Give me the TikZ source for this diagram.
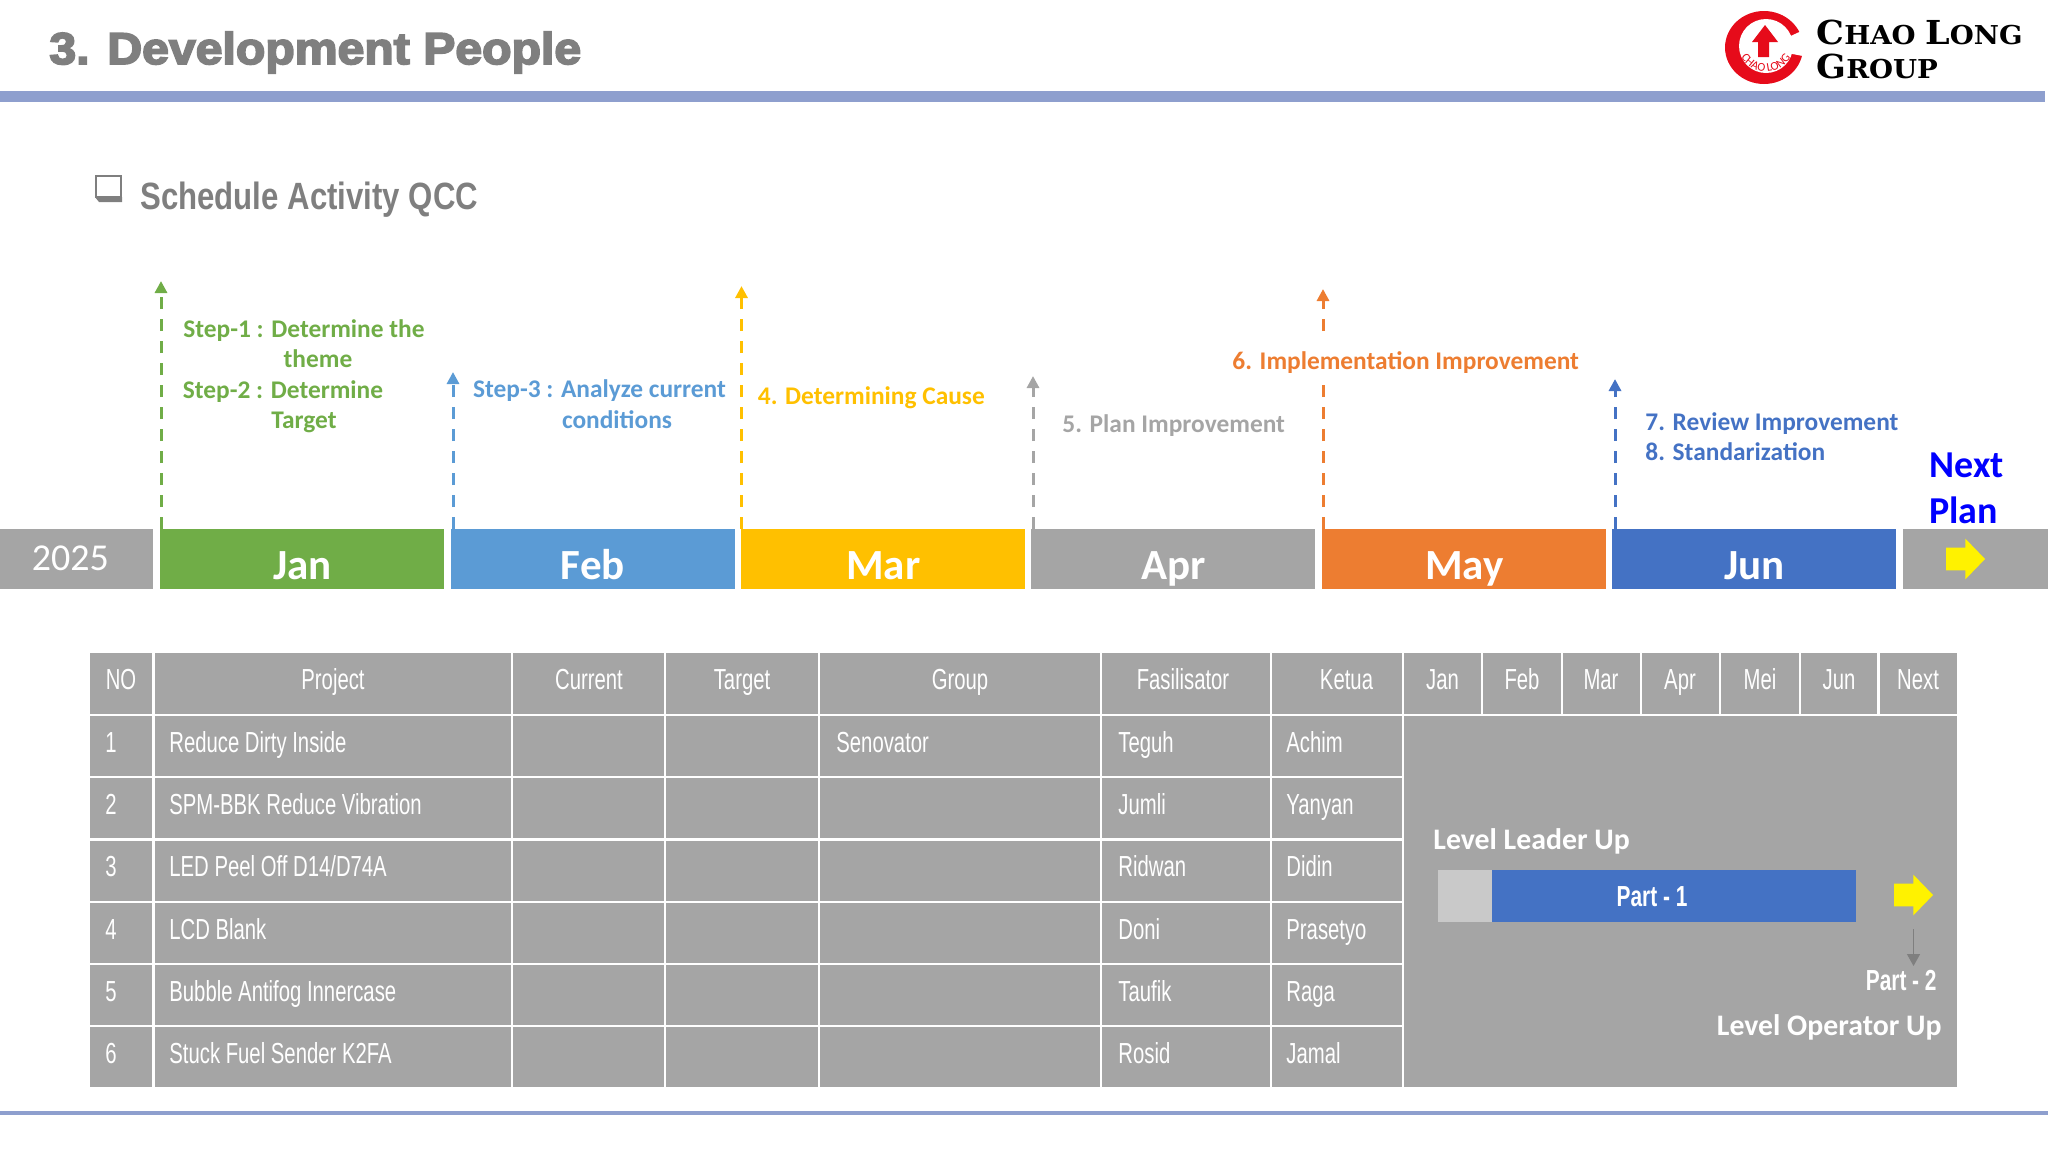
\documentclass[tikz,border=0pt]{standalone}
\usepackage{fontspec}
\usetikzlibrary{arrows.meta}
\usetikzlibrary{shapes}
\usetikzlibrary{decorations.text}
\setmainfont{Carlito}
\newfontfamily\titlefont[FakeStretch=1.08,BoldFeatures={FakeBold=4,FakeStretch=1.08}]{Liberation Sans}
\newfontfamily\subfont[BoldFeatures={FakeStretch=.82}]{Liberation Sans}
\newfontfamily\logofont[BoldFeatures={FakeStretch=1.06}]{DejaVu Serif}
\newfontfamily\cellfont[FakeStretch=.7,BoldFeatures={FakeStretch=.72}]{Liberation Sans}
\definecolor{linegray}{HTML}{A5A5A5}
\definecolor{textgray}{HTML}{7F7F7F}
\definecolor{rulecol}{HTML}{8E9FCE}
\definecolor{logored}{HTML}{E60B1A}
\definecolor{jancol}{HTML}{70AD47}
\definecolor{febcol}{HTML}{5B9BD5}
\definecolor{marcol}{HTML}{FFC000}
\definecolor{maycol}{HTML}{ED7D31}
\definecolor{juncol}{HTML}{4472C4}
\tikzset{
  month/.style={anchor=north west,inner sep=0pt,minimum width=142pt,minimum height=30pt,text=white,
    font=\bfseries\fontsize{21.5}{24}\selectfont,text height=19.7pt,text depth=0pt},
  stepline/.style={line width=1.5pt,dash pattern=on 6pt off 5pt,-{Triangle[length=6pt,width=6pt]}},
  steptxt/.style={inner sep=0pt,font=\bfseries\fontsize{12.7}{15}\selectfont,text height=11pt,text depth=3pt},
  cell/.style={anchor=west,inner sep=0pt,text=white,font=\cellfont\fontsize{14.5}{17}\selectfont,text height=12.5pt,text depth=2.5pt},
  head/.style={inner sep=0pt,text=white,font=\cellfont\fontsize{14.5}{17}\selectfont,text height=12.5pt,text depth=2.5pt},
  grid/.style={white,line width=1.3pt},
  yarrow/.style={single arrow,fill=yellow,inner sep=0pt,minimum height=19.5pt,text height=11pt,text depth=0pt,
    single arrow head extend=4.5pt,single arrow tip angle=92},
  lvl/.style={inner sep=0pt,text=white,font=\bfseries\fontsize{14.9}{17}\selectfont,text height=11pt,text depth=3pt},
  logotxt/.style={anchor=base west,inner sep=0pt,font=\logofont\bfseries\fontsize{16.5}{20}\selectfont,text height=12pt,text depth=0pt}
}
\begin{document}
\begin{tikzpicture}[x=.5pt,y=-.5pt]
\useasboundingbox (0,0) rectangle (2048,1152);
% header
\fill[rulecol] (0,91) rectangle (2045,102);
\fill[rulecol] (0,1111) rectangle (2048,1115);
\node[anchor=base west,inner sep=0pt,text=textgray,font=\titlefont\bfseries\fontsize{22.3}{26}\selectfont] (title) at (49,64){3. Development People};
\draw[textgray,line width=1pt,fill=white] (96,176) rectangle (121,197);
\fill[textgray] (95,197) -- (122,197) -- (122,202) -- (99,202) -- cycle;
\node[anchor=base west,inner sep=0pt,text=textgray,font=\subfont\bfseries\fontsize{19}{22}\selectfont] (sub) at (140,209){Schedule Activity QCC};
% logo
\fill[logored] (1764,47.5) ellipse[x radius=39,y radius=36.5];
\fill[white] (1766,46) circle[radius=27];
\fill[white] (1782,40) -- (1808,28) -- (1808,57) -- (1782,52) -- cycle;
\fill[logored] (1765,25) -- (1778,42) -- (1769,42) -- (1769,57) -- (1758,57) -- (1758,42) -- (1752,42) -- cycle;
\path[decorate,decoration={text along path,text align=center,text={|\fontsize{6}{7}\selectfont\color{logored}|CHAO LONG}}]
  (1737,50) .. controls (1748,79) and (1782,79) .. (1795,50);
\node[logotxt] (logoa) at (1816,44){C\fontsize{13}{20}\selectfont HAO \fontsize{16.5}{20}\selectfont L\fontsize{13}{20}\selectfont ONG};
\node[logotxt] (logob) at (1816,78){G\fontsize{13}{20}\selectfont ROUP};
% timeline
\node[month,minimum width=76.5pt,fill=linegray,font=\fontsize{19}{22}\selectfont,text height=11pt] (year) at (0,529){2025\hspace{6.5pt}\mbox{}};
\node[month,fill=jancol] (jan) at (160,529){Jan};
\node[month,fill=febcol] (feb) at (450.5,529){Feb};
\node[month,fill=marcol] (mar) at (741,529){Mar};
\node[month,fill=linegray] (apr) at (1031,529){Apr};
\node[month,fill=maycol] (may) at (1322,529){May};
\node[month,fill=juncol] (jun) at (1612,529){Jun};
\node[month,minimum width=72.5pt,fill=linegray] (nxt) at (1903,529){};
\node[yarrow] (nxtarrow) at (1960,559){};
\coordinate (jantop) at (161,281);
\coordinate (febtop) at (453,372);
\coordinate (martop) at (741.5,286);
\coordinate (aprtop) at (1033,376);
\coordinate (maytop) at (1323,289);
\coordinate (juntop) at (1615,379);
\draw[stepline,jancol] (jan.north west -| jantop) -- (jantop);
\draw[stepline,febcol] (feb.north west -| febtop) -- (febtop);
\draw[stepline,marcol] (mar.north west -| martop) -- (martop);
\draw[stepline,linegray] (apr.north west -| aprtop) -- (aprtop);
\draw[stepline,maycol] (may.north west -| maytop) -- (maytop);
\draw[stepline,juncol] (jun.north west -| juntop) -- (juntop);
\node[steptxt,text=jancol] (stepa) at (304,329){Step-1 : Determine the};
\node[steptxt,text=jancol] (stepb) at (318,359){theme};
\node[steptxt,text=jancol] (stepc) at (283,390){Step-2 : Determine};
\node[steptxt,text=jancol] (stepd) at (304,420){Target};
\node[steptxt,text=febcol] (stepe) at (599.5,389){Step-3 : Analyze current};
\node[steptxt,text=febcol] (stepf) at (617,420){conditions};
\node[steptxt,text=marcol,anchor=west] (stepg) at (757.5,396){4. Determining Cause};
\node[steptxt,text=linegray,anchor=west] (steph) at (1062,424){5. Plan Improvement};
\node[steptxt,text=maycol,anchor=west,fill=white,inner xsep=2pt,inner ysep=3pt] (stepi) at (1228,361){6. Implementation Improvement};
\node[steptxt,text=juncol,anchor=west] (stepj) at (1645,422){7. Review Improvement};
\node[steptxt,text=juncol,anchor=west] (stepk) at (1645,452){8. Standarization};
\node[steptxt,text=blue,anchor=west,font=\bfseries\fontsize{19}{22}\selectfont] (nexta) at (1929,469){Next};
\node[steptxt,text=blue,anchor=west,font=\bfseries\fontsize{19}{22}\selectfont] (nextb) at (1929,515){Plan};
% table
\fill[linegray] (90,653) rectangle (1957,1087);
\draw[grid] (90,715) -- (1957,715);
\draw[grid] (90,777) -- (1403,777);
\draw[grid] (90,839.5) -- (1403,839.5);
\draw[grid] (90,902) -- (1403,902);
\draw[grid] (90,964) -- (1403,964);
\draw[grid] (90,1026) -- (1403,1026);
\draw[grid] (153.5,653) -- (153.5,1087);
\draw[grid] (512,653) -- (512,1087);
\draw[grid] (665,653) -- (665,1087);
\draw[grid] (819,653) -- (819,1087);
\draw[grid] (1101,653) -- (1101,1087);
\draw[grid] (1271,653) -- (1271,1087);
\draw[grid] (1403,653) -- (1403,1087);
\draw[grid] (1482,653) -- (1482,715);
\draw[grid] (1562,653) -- (1562,715);
\draw[grid] (1641,653) -- (1641,715);
\draw[grid] (1720,653) -- (1720,715);
\draw[grid] (1800,653) -- (1800,715);
\draw[grid] (1878.5,653) -- (1878.5,715);
\node[head] (hno) at (121,679){NO};
\node[head] (hproject) at (333,679){Project};
\node[head] (hcurrent) at (589,679){Current};
\node[head] (htarget) at (742,679){Target};
\node[head] (hgroup) at (960,679){Group};
\node[head] (hfasil) at (1183,679){Fasilisator};
\node[head] (hketua) at (1346.5,679){Ketua};
\node[head] (hjan) at (1442.5,679){Jan};
\node[head] (hfeb) at (1522,679){Feb};
\node[head] (hmar) at (1601,679){Mar};
\node[head] (hapr) at (1680,679){Apr};
\node[head] (hmei) at (1760,679){Mei};
\node[head] (hjun) at (1839,679){Jun};
\node[head] (hnext) at (1918,679){Next};
\node[cell] (noa) at (105,742){1};
\node[cell] (nob) at (105,804){2};
\node[cell] (noc) at (105,866){3};
\node[cell] (nod) at (105,929){4};
\node[cell] (noe) at (105,991){5};
\node[cell] (nof) at (105,1053){6};
\node[cell] (pa) at (169,742){Reduce Dirty Inside};
\node[cell] (pb) at (169,804){SPM-BBK Reduce Vibration};
\node[cell] (pc) at (169,866){LED Peel Off D14/D74A};
\node[cell] (pd) at (169,929){LCD Blank};
\node[cell] (pe) at (169,991){Bubble Antifog Innercase};
\node[cell] (pf) at (169,1053){Stuck Fuel Sender K2FA};
\node[cell] (ga) at (836,742){Senovator};
\node[cell] (fa) at (1118,742){Teguh};
\node[cell] (fb) at (1118,804){Jumli};
\node[cell] (fc) at (1118,866){Ridwan};
\node[cell] (fd) at (1118,929){Doni};
\node[cell] (fe) at (1118,991){Taufik};
\node[cell] (ff) at (1118,1053){Rosid};
\node[cell] (ka) at (1286,742){Achim};
\node[cell] (kb) at (1286,804){Yanyan};
\node[cell] (kc) at (1286,866){Didin};
\node[cell] (kd) at (1286,929){Prasetyo};
\node[cell] (ke) at (1286,991){Raga};
\node[cell] (kf) at (1286,1053){Jamal};
% level box
\node[lvl,anchor=west] (leader) at (1433,841){Level Leader Up};
\fill[white!40!linegray] (1438,870) rectangle (1492,922);
\fill[juncol] (1492,870) rectangle (1856,922);
\node[cell,anchor=center,font=\cellfont\bfseries\fontsize{14.5}{17}\selectfont] (partone) at (1652,896){Part - 1};
\node[yarrow] (levelarrow) at (1908,895){};
\node[cell,anchor=east,font=\cellfont\bfseries\fontsize{14.5}{17}\selectfont] (parttwo) at (1937,980){Part - 2};
\coordinate (gapstart) at (1913.5,929);
\coordinate (gapend) at (1913.5,966);
\draw[textgray,line width=.7pt,-{Triangle[length=6pt,width=6.5pt]}] (gapstart) -- (gapend);
\node[lvl,anchor=east] (operator) at (1942,1027){Level Operator Up};
\end{tikzpicture}
\end{document}
